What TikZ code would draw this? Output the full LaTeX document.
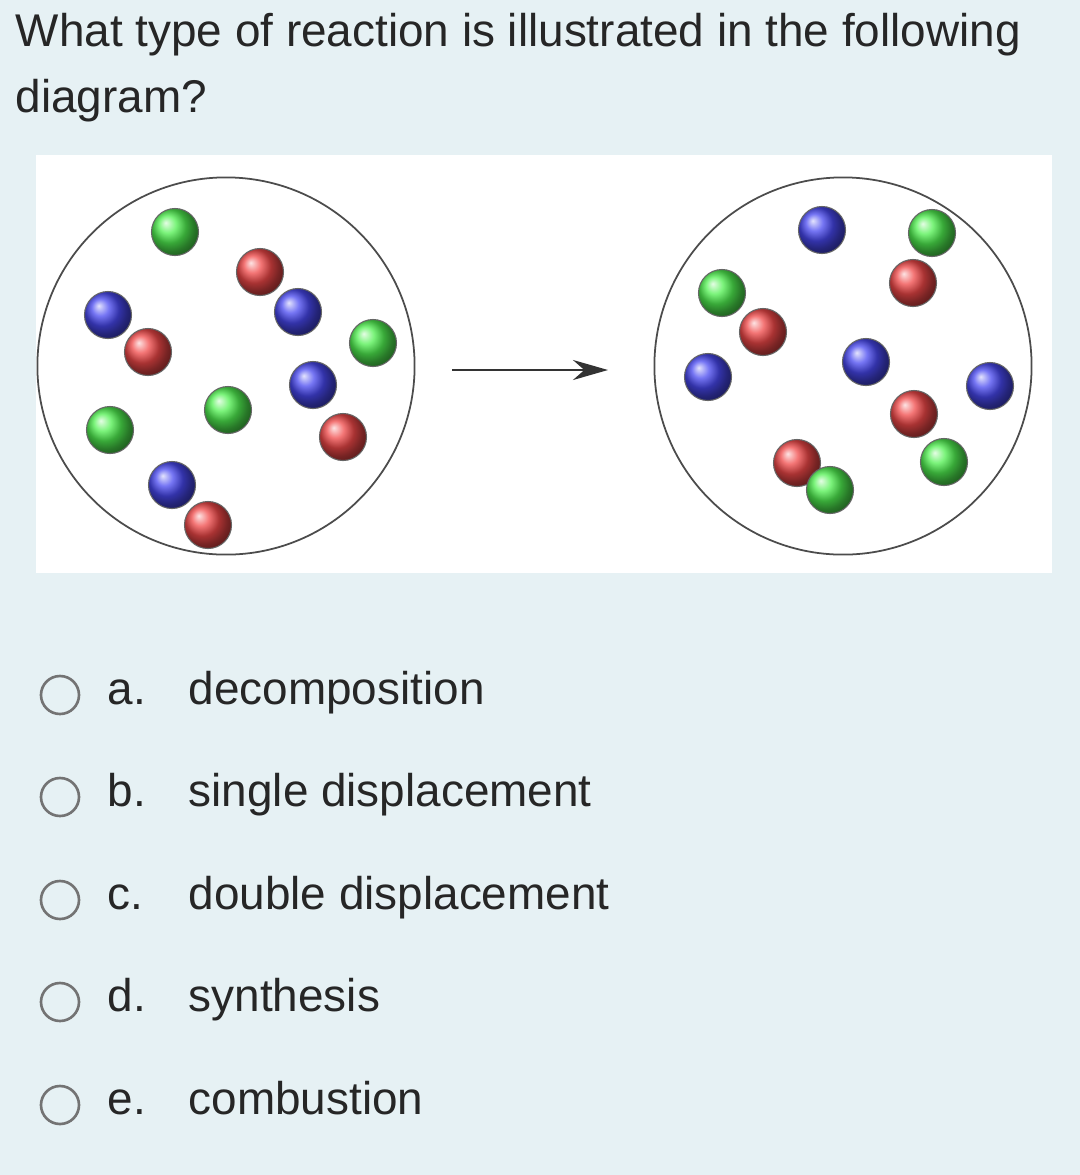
\documentclass[tikz,border=0pt]{standalone}
\usepackage{fontspec}
\setmainfont{Liberation Sans}
\usetikzlibrary{arrows.meta}
\definecolor{bg}{HTML}{E6F1F4}
\definecolor{gr}{HTML}{50F050}
\definecolor{rd}{HTML}{F04848}
\definecolor{bl}{HTML}{4848F0}
\begin{document}
\begin{tikzpicture}[x=0.01cm,y=-0.01cm,
  q/.style={anchor=base west,inner sep=0,font=\fontsize{13.05}{15}\selectfont,text=black!85},
  opt/.style={anchor=base west,inner sep=0,font=\fontsize{13.05}{16}\selectfont,text=black!85},
  radio/.style={circle,draw=black!55,line width=0.75pt,minimum size=0.38cm,inner sep=0},
  ball/.style={circle,minimum size=0.47cm,inner sep=0,draw=black!60,line width=0.3pt,shading=ball},
  G/.style={ball,ball color=gr},
  R/.style={ball,ball color=rd},
  B/.style={ball,ball color=bl},
  pot/.style={circle,draw=black!70,line width=0.5pt,minimum size=3.77cm,inner sep=0}]
\fill[bg] (0,0) rectangle (1080,1175);
\useasboundingbox (0,0) rectangle (1080,1175);
\node[q] (t1) at (15,46) {What type of reaction is illustrated in the following};
\node[q] (t2) at (15,112) {diagram?};
\fill[white] (36,155) rectangle (1052,573);
\node[pot] (L) at (226,366) {};
\node[pot] (Rr) at (843,366) {};
\coordinate (a1) at (452,370); \coordinate (a2) at (608,370);
\draw[-{Stealth[length=0.35cm,width=0.2cm]},line width=0.7pt,black!80] (a1) -- (a2);
% left
\node[G] (l1) at (175,232) {};
\node[R] (l2) at (260,272) {}; \node[B] (l3) at (298,312) {};
\node[G] (l4) at (373,343) {};
\node[B] (l5) at (108,315) {}; \node[R] (l6) at (148,352) {};
\node[G] (l7) at (228,410) {};
\node[B] (l8) at (313,385) {}; \node[R] (l9) at (343,437) {};
\node[G] (l10) at (110,430) {};
\node[B] (l11) at (172,485) {}; \node[R] (l12) at (208,525) {};
% right
\node[B] (r1) at (822,230) {};
\node[R] (r3) at (913,283) {}; \node[G] (r2) at (932,233) {};
\node[G] (r4) at (722,293) {}; \node[R] (r5) at (763,332) {};
\node[B] (r6) at (708,377) {};
\node[B] (r7) at (866,362) {};
\node[B] (r8) at (990,386) {};
\node[R] (r9) at (914,414) {}; \node[G] (r10) at (944,462) {};
\node[R] (r11) at (797,463) {}; \node[G] (r12) at (830,490) {};
% options
\foreach \y/\l/\w [count=\i] in {688/a./decomposition,790/b./single displacement,893/c./double displacement,995/d./synthesis,1098/e./combustion}{
  \node[radio] (c\i) at (60,\y+7) {};
  \node[opt] (k\i) at (107,\y+16) {\l};
  \node[opt] (o\i) at (188,\y+16) {\w};
}
\end{tikzpicture}
\end{document}
